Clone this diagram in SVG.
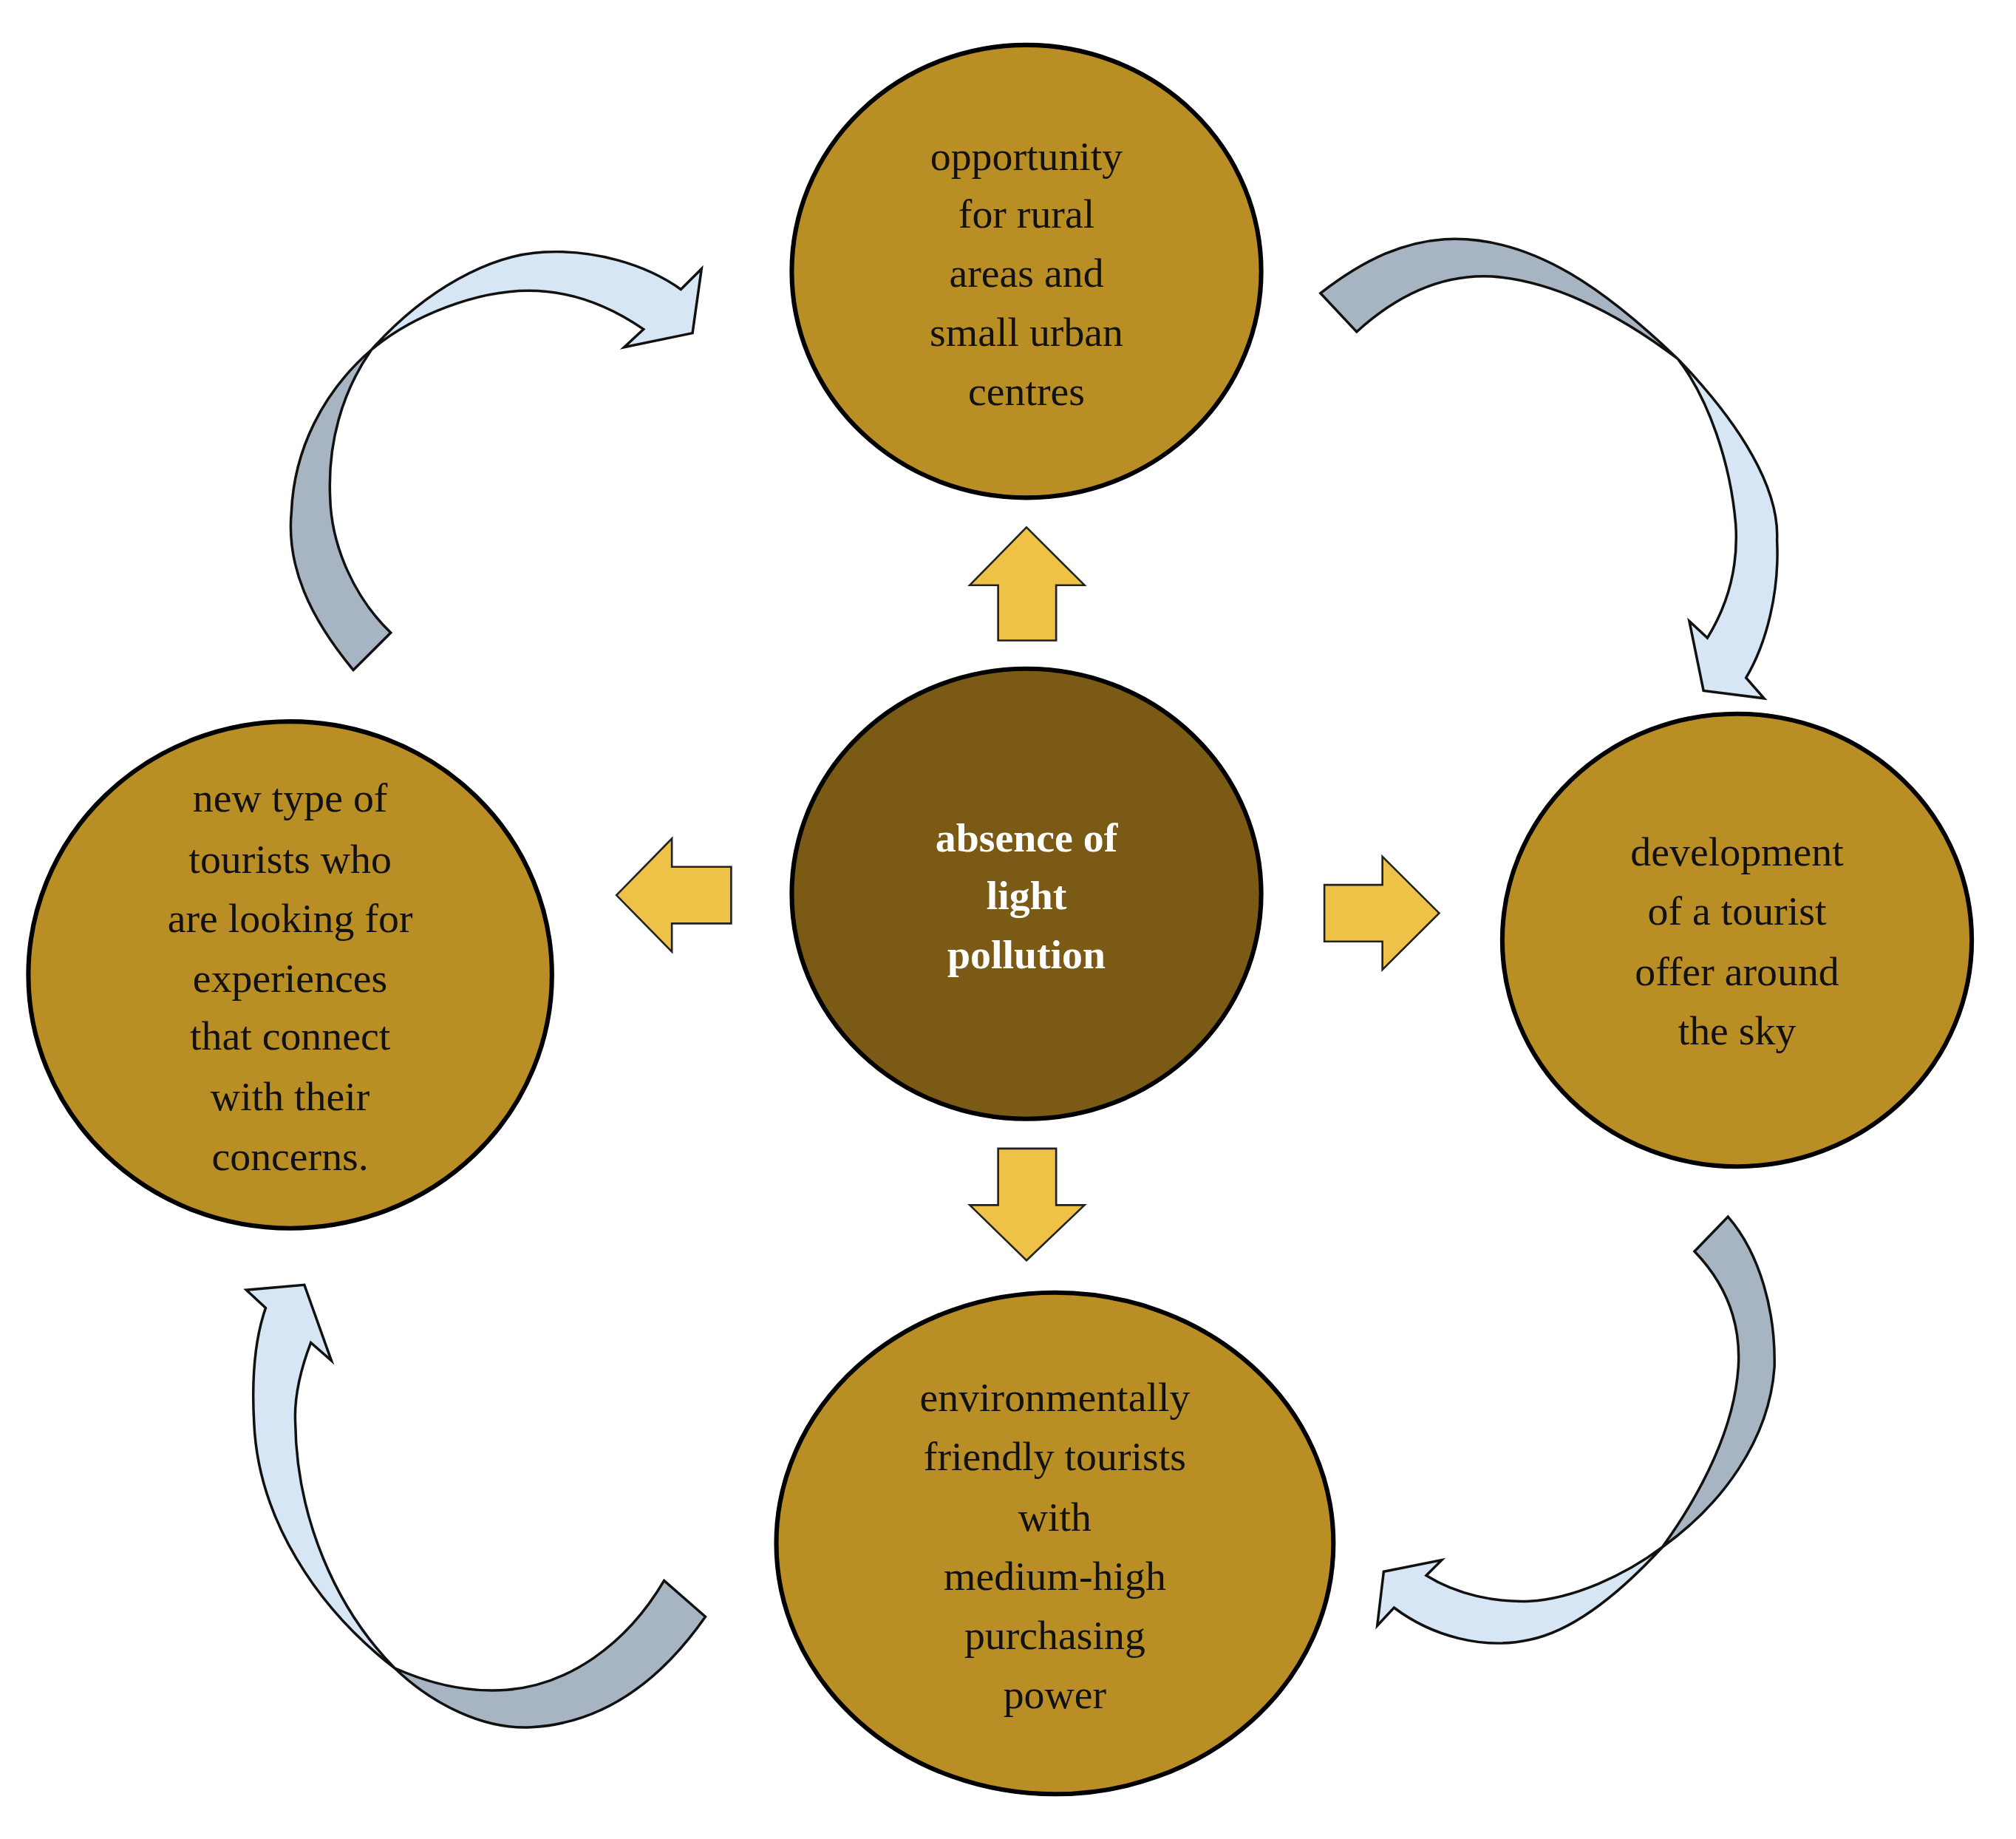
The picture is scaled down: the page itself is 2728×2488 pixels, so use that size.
<svg xmlns="http://www.w3.org/2000/svg" width="2728" height="2488" viewBox="0 0 2728 2488">
<style>
.c{fill:#b98e25;stroke:#000;stroke-width:3.5}
.cc{fill:#7b5a16;stroke:#000;stroke-width:3.5}
.t{font-family:"Liberation Serif","Times New Roman",serif;font-size:32px;fill:#111;text-anchor:middle}
.tw{font-family:"Liberation Serif","Times New Roman",serif;font-size:32px;font-weight:bold;fill:#fff;text-anchor:middle}
.ya{fill:#eec247;stroke:#222;stroke-width:1.5}
.g{fill:#a7b4c2;stroke:#111;stroke-width:2}
.b{fill:#d6e6f4;stroke:#111;stroke-width:2}
</style>
<rect width="2728" height="2488" fill="#fff"/>
<g transform="scale(1.745 1.74)">
<g id="connectors">
<path class="ya" d="M796,410 L841,455 L819,455 L819,498 L774,498 L774,455 L752,455 Z"/>
<path class="ya" d="M478,696 L521,652 L521,674 L567,674 L567,718 L521,718 L521,740 Z"/>
<path class="ya" d="M1116,710 L1072,666 L1072,688 L1027,688 L1027,732 L1072,732 L1072,754 Z"/>
<path class="ya" d="M796,980 L841,937 L819,937 L819,893 L774,893 L774,937 L752,937 Z"/>
<path class="g" d="M274,521 C240,480 222,440 226,398 C228,350 250,305 288,272 C265,305 254,345 256,387 C257,425 275,465 303,492 Z"/>
<path class="b" d="M288,272 C330,225 380,198 422,196 C460,194 500,205 528,225 L544,209 L537,259 L484,270 L499,256 C470,236 440,226 410,226 C370,226 320,245 288,272 Z"/>
<path class="g" d="M1024,228 C1060,200 1090,188 1120,186 C1190,182 1250,230 1301,279 C1250,240 1200,218 1157,215 C1120,213 1085,228 1052,258 Z"/>
<path class="b" d="M1301,279 C1350,330 1380,380 1378,420 C1380,460 1370,500 1354,527 L1368,543 L1321,537 L1310,483 L1324,496 C1340,470 1348,440 1346,408 C1342,360 1325,310 1301,279 Z"/>
<path class="g" d="M1340,946 C1365,975 1377,1020 1376,1063 C1372,1120 1335,1170 1289,1203 C1320,1160 1345,1110 1348,1063 C1350,1030 1340,1000 1314,973 Z"/>
<path class="b" d="M1289,1203 C1255,1240 1220,1268 1186,1275 C1150,1283 1110,1272 1081,1250 L1068,1264 L1073,1222 L1118,1213 L1106,1225 C1130,1240 1160,1246 1186,1245 C1220,1243 1260,1225 1289,1203 Z"/>
<path class="g" d="M547,1257 C510,1310 465,1340 412,1343 C375,1345 335,1325 306,1297 C335,1310 365,1316 393,1314 C440,1310 485,1280 515,1229 Z"/>
<path class="b" d="M306,1297 C245,1250 200,1180 197,1106 C195,1070 198,1040 206,1017 L191,1003 L236,999 L257,1058 L241,1044 C233,1065 228,1085 229,1106 C230,1180 260,1250 306,1297 Z"/>
</g>
<g id="top">
<ellipse class="c" cx="796" cy="211" rx="182" ry="176"/>
<text class="t" x="796" y="132">opportunity</text>
<text class="t" x="796" y="177">for rural</text>
<text class="t" x="796" y="223">areas and</text>
<text class="t" x="796" y="269">small urban</text>
<text class="t" x="796" y="315">centres</text>
</g>
<g id="center">
<ellipse class="cc" cx="796" cy="695" rx="182" ry="175"/>
<text class="tw" x="796" y="662">absence of</text>
<text class="tw" x="796" y="707">light</text>
<text class="tw" x="796" y="753">pollution</text>
</g>
<g id="left">
<ellipse class="c" cx="225" cy="758" rx="203" ry="197"/>
<text class="t" x="225" y="631">new type of</text>
<text class="t" x="225" y="679">tourists who</text>
<text class="t" x="225" y="725">are looking for</text>
<text class="t" x="225" y="771">experiences</text>
<text class="t" x="225" y="816">that connect</text>
<text class="t" x="225" y="863">with their</text>
<text class="t" x="225" y="910">concerns.</text>
</g>
<g id="right">
<ellipse class="c" cx="1347" cy="731" rx="182" ry="176"/>
<text class="t" x="1347" y="673">development</text>
<text class="t" x="1347" y="719">of a tourist</text>
<text class="t" x="1347" y="766">offer around</text>
<text class="t" x="1347" y="812">the sky</text>
</g>
<g id="bottom">
<ellipse class="c" cx="818" cy="1200" rx="216" ry="195"/>
<text class="t" x="818" y="1097">environmentally</text>
<text class="t" x="818" y="1143">friendly tourists</text>
<text class="t" x="818" y="1190">with</text>
<text class="t" x="818" y="1236">medium-high</text>
<text class="t" x="818" y="1282">purchasing</text>
<text class="t" x="818" y="1328">power</text>
</g>
</g>
</svg>
